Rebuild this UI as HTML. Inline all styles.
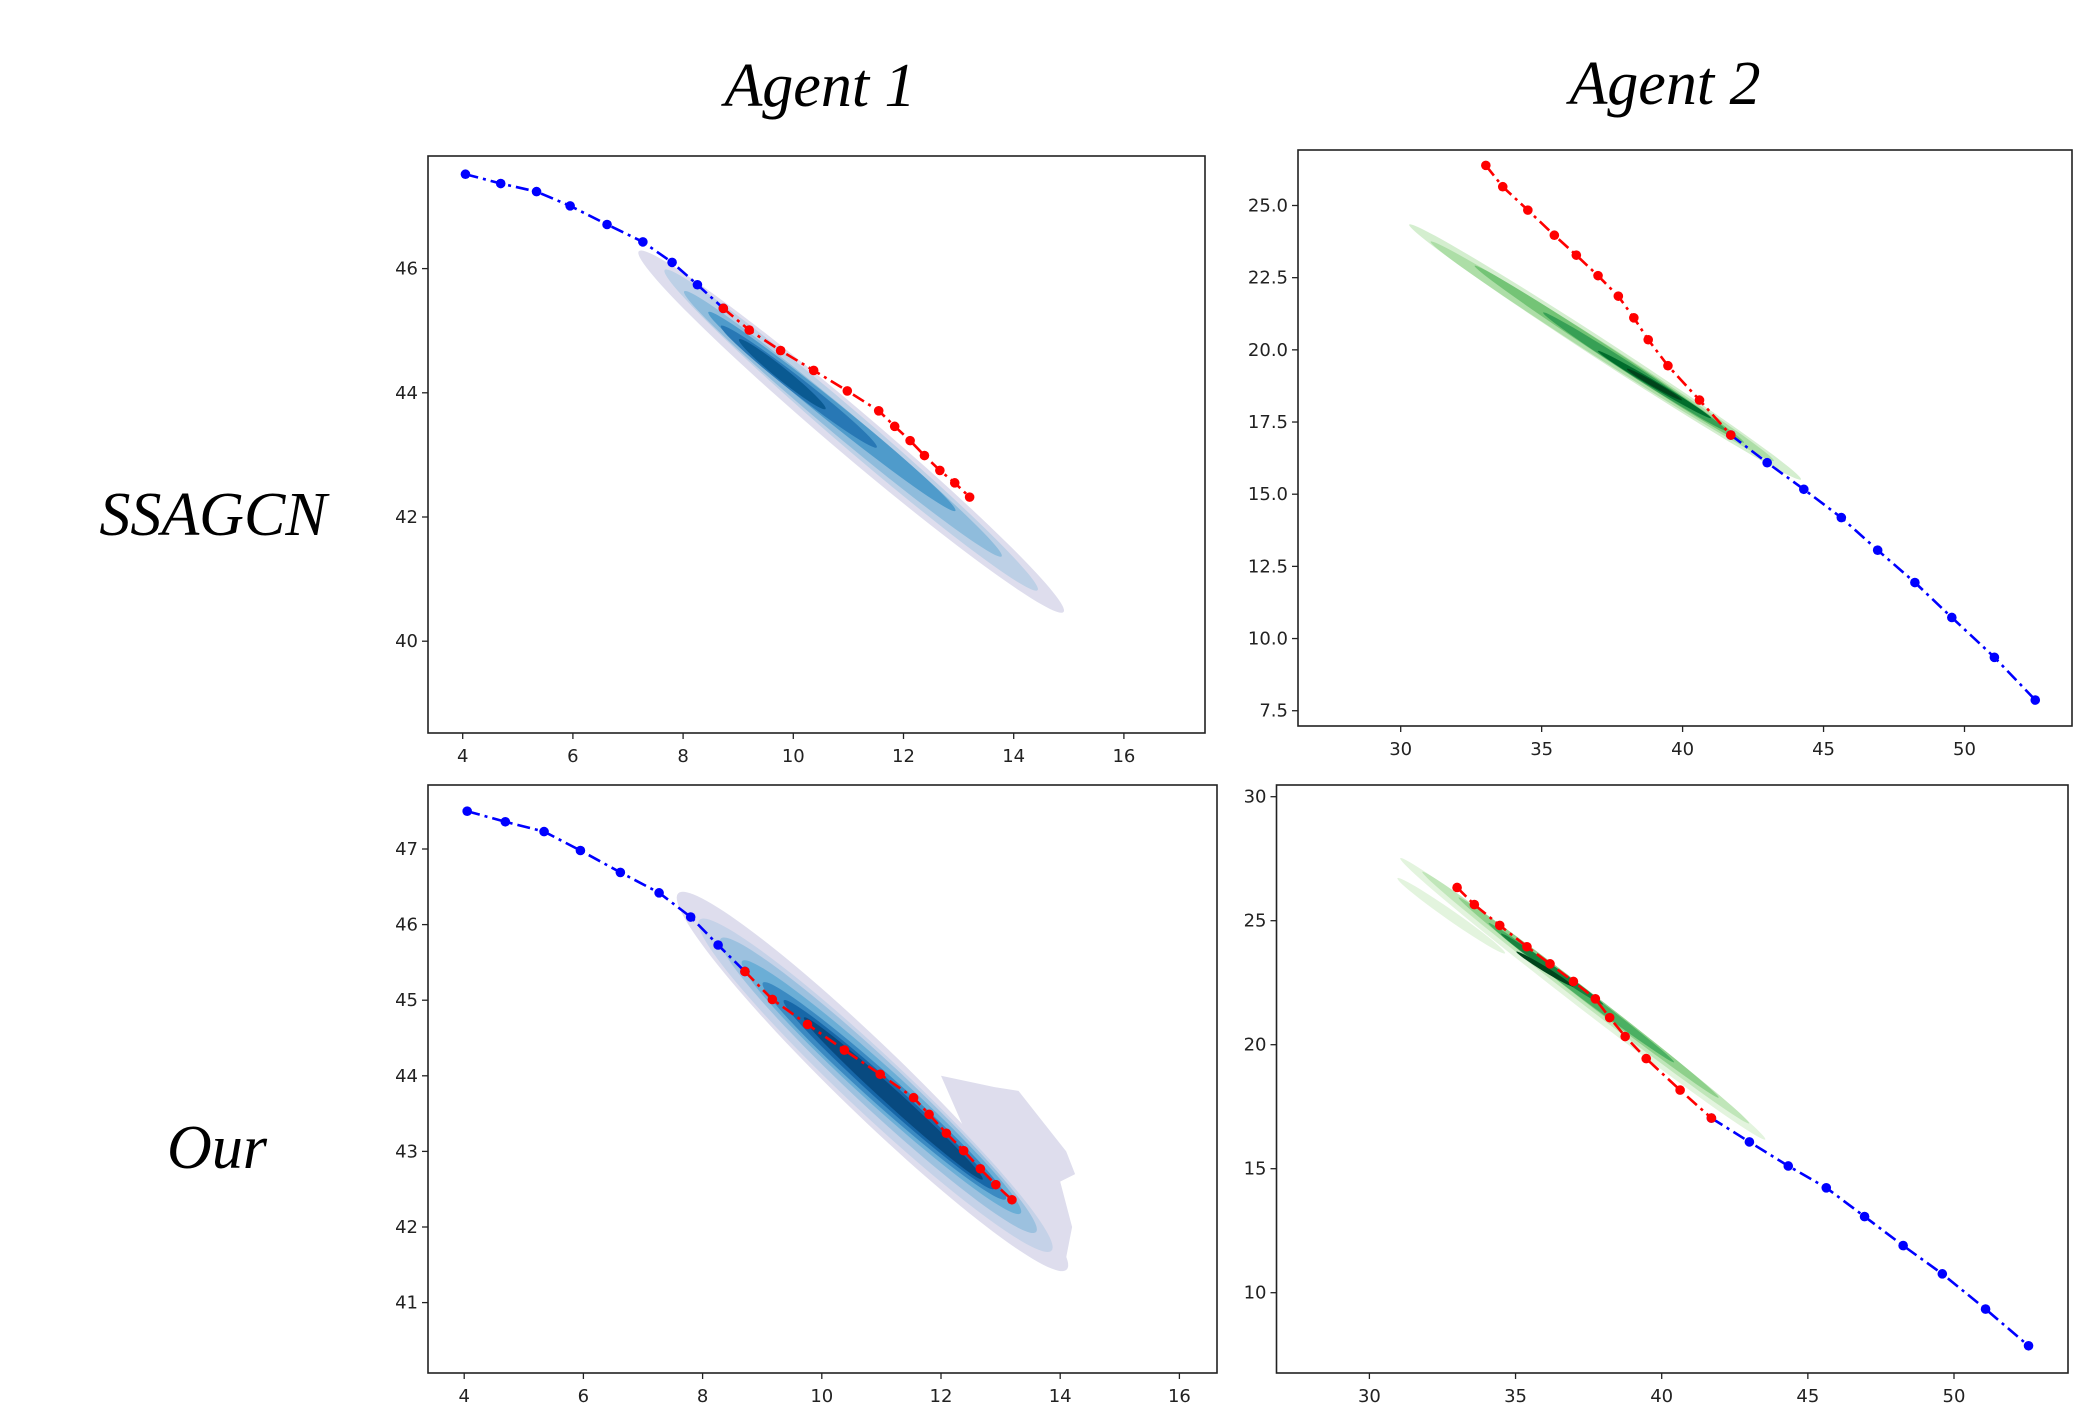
<!DOCTYPE html>
<html><head><meta charset="utf-8"><style>
html,body{margin:0;padding:0;background:#fff;width:2085px;height:1425px;overflow:hidden}
svg{display:block}
.t{font-family:"DejaVu Sans","Liberation Sans",sans-serif;font-size:18px;fill:#222}
.h{font-family:"Liberation Serif",serif;font-style:italic;font-size:62px;fill:#000}
</style></head><body>
<svg id="s" width="2085" height="1425" viewBox="0 0 2085 1425" xmlns="http://www.w3.org/2000/svg">
<text class="h" x="820" y="106" text-anchor="middle">Agent 1</text>
<text class="h" x="1665" y="104" text-anchor="middle">Agent 2</text>
<text class="h" x="213" y="535" text-anchor="middle">SSAGCN</text>
<text class="h" x="217" y="1168" text-anchor="middle">Our</text>
</svg>
<script>
var S=document.getElementById('s'),NS='http://www.w3.org/2000/svg';
function el(n,a,p){var e=document.createElementNS(NS,n);for(var k in a)e.setAttribute(k,a[k]);(p||S).appendChild(e);return e;}
var panels=[
{L:428,T:156,R:1205,B:733,x0:4,px0:462.7,sx:55.1,y0:46,py0:268.6,sy:62.1,xt:[4,6,8,10,12,14,16],yt:[40,42,44,46],yf:0,
 kde:[['#dedded',[7.5,46.05],[14.6,40.7],22],['#bdd0e6',[7.9,45.8],[14.2,41.0],17],['#8fbcdc',[8.2,45.5],[13.6,41.5],13],['#4f9bcb',[8.6,45.2],[12.8,42.2],10],['#2878b5',[8.8,45.0],[11.4,43.2],8],['#0a5a92',[9.1,44.8],[10.5,43.8],6]],
 blue:[[4.05,47.52],[4.69,47.37],[5.34,47.24],[5.95,47.01],[6.62,46.71],[7.27,46.43],[7.8,46.1],[8.26,45.74],[8.73,45.36]],
 red:[[8.73,45.36],[9.2,45.01],[9.77,44.68],[10.37,44.36],[10.98,44.03],[11.55,43.71],[11.84,43.46],[12.12,43.23],[12.38,42.99],[12.66,42.75],[12.93,42.55],[13.2,42.32]]},
{L:1298,T:150,R:2072,B:726,x0:30,px0:1400.7,sx:28.19,y0:25,py0:205.5,sy:28.87,xt:[30,35,40,45,50],yt:[7.5,10,12.5,15,17.5,20,22.5,25],yf:1,
 kde:[['#d4eecf',[30.6,24.15],[43.9,15.7],10],['#addea7',[31.3,23.6],[43.0,16.3],8],['#74c476',[32.8,22.8],[42.0,16.9],6],['#37a055',[35.2,21.2],[41.4,17.3],5],['#006d2c',[37.1,19.9],[40.9,17.7],3.5],['#00441b',[38.1,19.3],[39.9,18.3],2.5]],
 blue:[[41.71,17.05],[43.0,16.09],[44.3,15.17],[45.63,14.19],[46.92,13.06],[48.24,11.94],[49.55,10.73],[51.06,9.35],[52.51,7.87]],
 red:[[33.02,26.39],[33.62,25.65],[34.51,24.84],[35.45,23.97],[36.23,23.28],[37.0,22.57],[37.72,21.86],[38.27,21.11],[38.78,20.35],[39.48,19.45],[40.6,18.26],[41.71,17.05]]},
{L:428,T:785,R:1217,B:1373,x0:4,px0:464.2,sx:59.6,y0:47,py0:849,sy:75.6,xt:[4,6,8,10,12,14,16],yt:[41,42,43,44,45,46,47],yf:0,
 poly:['#dedded',[[12.0,44.0],[12.9,43.85],[13.3,43.8],[13.6,43.5],[14.1,43.0],[14.25,42.7],[14.0,42.6],[14.2,42.0],[14.1,41.6],[13.0,42.2]]],
 kde:[['#dedded',[8.0,46.1],[13.7,41.75],34],['#c5d2e8',[8.3,45.8],[13.5,41.95],29],['#9cc1df',[8.6,45.6],[13.3,42.15],24],['#6baed6',[8.9,45.35],[13.1,42.35],19],['#3b8ac2',[9.2,45.1],[12.9,42.5],15],['#1767a8',[9.5,44.9],[12.75,42.6],11],['#084a80',[9.8,44.7],[12.6,42.7],8]],
 blue:[[4.05,47.5],[4.69,47.36],[5.34,47.23],[5.95,46.98],[6.62,46.69],[7.27,46.42],[7.8,46.1],[8.26,45.73],[8.71,45.38]],
 red:[[8.71,45.38],[9.17,45.01],[9.76,44.68],[10.38,44.34],[10.98,44.02],[11.54,43.71],[11.8,43.49],[12.09,43.24],[12.38,43.01],[12.66,42.77],[12.92,42.56],[13.19,42.36]]},
{L:1276.5,T:785,R:2068,B:1373,x0:30,px0:1369.4,sx:29.23,y0:30,py0:796.7,sy:24.8,xt:[30,35,40,45,50],yt:[10,15,20,25,30],yf:0,
 kde:[['#e3f4de',[31.3,27.3],[43.3,16.4],9],['#e3f4de',[31.1,26.6],[34.5,23.8],5],['#c0e6b9',[32.0,26.8],[42.8,17.0],7],['#8ed08b',[33.2,25.8],[41.8,18.0],5.5],['#4bb062',[34.2,24.8],[40.3,19.4],4.5],['#17813d',[34.6,24.4],[37.9,21.7],3.5],['#00441b',[35.1,23.7],[36.9,22.4],2.5]],
 blue:[[41.7,17.04],[43.0,16.08],[44.33,15.11],[45.63,14.23],[46.94,13.07],[48.26,11.9],[49.6,10.76],[51.08,9.34],[52.55,7.86]],
 red:[[33.0,26.34],[33.59,25.65],[34.46,24.81],[35.39,23.95],[36.18,23.26],[36.98,22.55],[37.73,21.85],[38.22,21.09],[38.75,20.33],[39.47,19.44],[40.63,18.17],[41.7,17.04]]}
];
panels.forEach(function(p){
 function X(x){return p.px0+(x-p.x0)*p.sx;} function Y(y){return p.py0+(p.y0-y)*p.sy;}
 var g=el('g',{});
 if(p.poly){el('polygon',{points:p.poly[1].map(function(q){return X(q[0]).toFixed(1)+','+Y(q[1]).toFixed(1);}).join(' '),fill:p.poly[0]},g);}
 p.kde.forEach(function(k){
  var x1=X(k[1][0]),y1=Y(k[1][1]),x2=X(k[2][0]),y2=Y(k[2][1]);
  var cx=(x1+x2)/2,cy=(y1+y2)/2,len=Math.hypot(x2-x1,y2-y1)/2,a=Math.atan2(y2-y1,x2-x1)*180/Math.PI;
  el('ellipse',{cx:cx,cy:cy,rx:len+k[3],ry:k[3],fill:k[0],transform:'rotate('+a+' '+cx+' '+cy+')'},g);
 });
 [['blue',p.blue],['red',p.red]].forEach(function(s){
  var pts=s[1].map(function(q){return X(q[0]).toFixed(1)+','+Y(q[1]).toFixed(1);}).join(' ');
  el('polyline',{points:pts,fill:'none',stroke:s[0],'stroke-width':2.6,'stroke-dasharray':'13,5,3,5'},g);
  s[1].forEach(function(q){el('circle',{cx:X(q[0]),cy:Y(q[1]),r:4.8,fill:s[0]},g);});
 });
 el('rect',{x:p.L,y:p.T,width:p.R-p.L,height:p.B-p.T,fill:'none',stroke:'#222','stroke-width':1.6});
 p.xt.forEach(function(v){var x=X(v);el('line',{x1:x,y1:p.B,x2:x,y2:p.B+6,stroke:'#222','stroke-width':1.3});
  var t=el('text',{x:x,y:p.B+29,'text-anchor':'middle','class':'t'});t.textContent=v;});
 p.yt.forEach(function(v){var y=Y(v);el('line',{x1:p.L-6,y1:y,x2:p.L,y2:y,stroke:'#222','stroke-width':1.3});
  var t=el('text',{x:p.L-10,y:y+6,'text-anchor':'end','class':'t'});t.textContent=p.yf?v.toFixed(1):v;});
});
</script>
</body></html>
